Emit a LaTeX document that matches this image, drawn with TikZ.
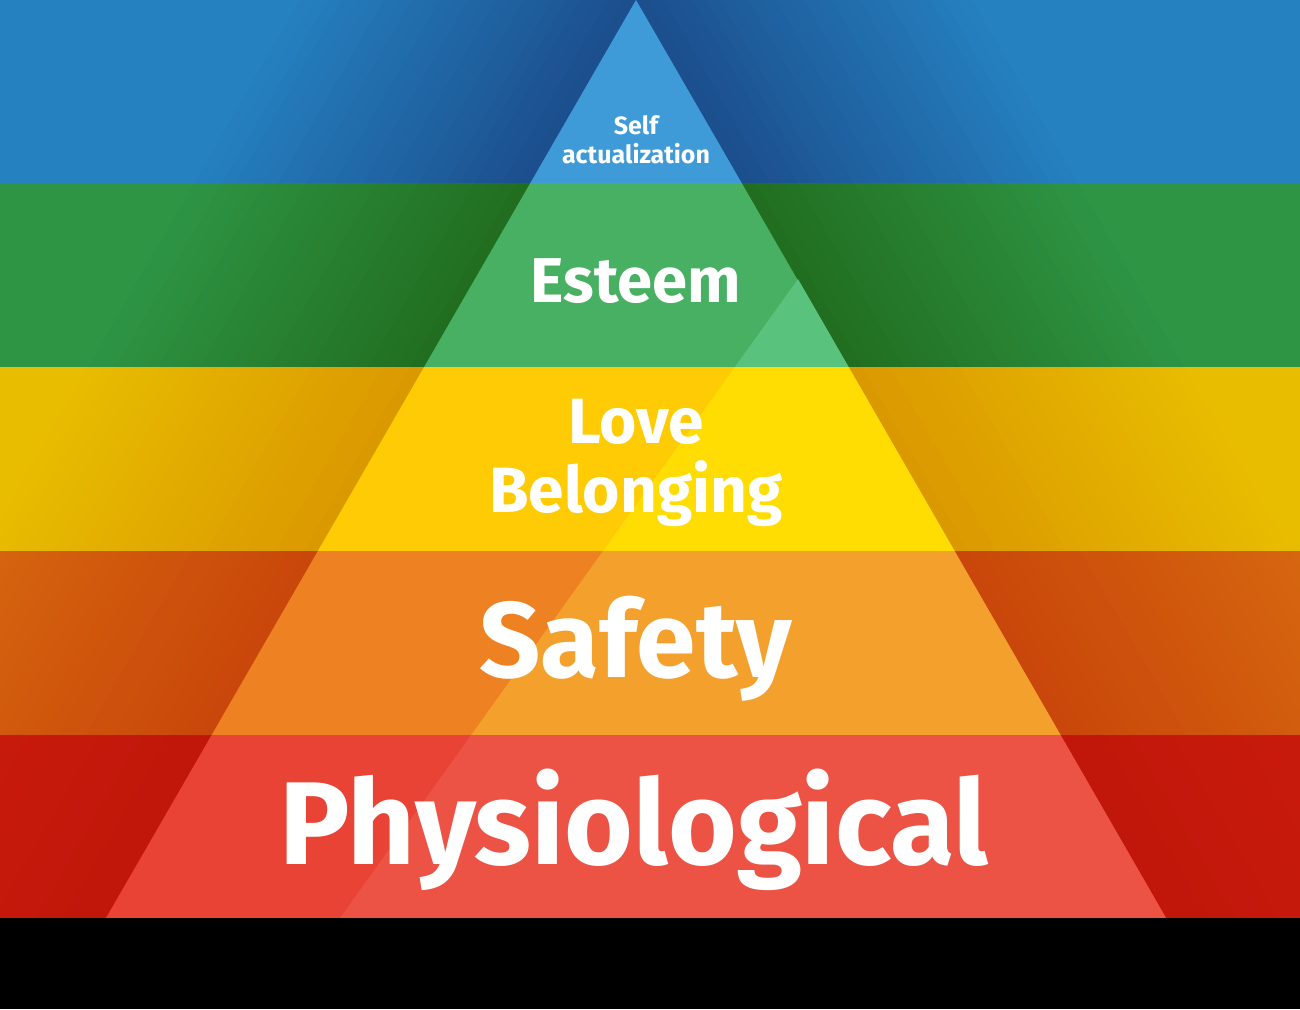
\documentclass[tikz,border=0pt]{standalone}
\usepackage{fontspec}
\setmainfont{Fira Sans}

\definecolor{blueLight}{HTML}{2581C0}
\definecolor{blueDark}{HTML}{1C4F8E}
\definecolor{bluePyr}{HTML}{3F9BD8}
\definecolor{greenLight}{HTML}{2E9545}
\definecolor{greenDark}{HTML}{226E20}
\definecolor{greenPyr}{HTML}{48B063}
\definecolor{greenHi}{HTML}{59C37E}
\definecolor{yellowLight}{HTML}{E8BD00}
\definecolor{yellowDark}{HTML}{DB9900}
\definecolor{yellowPyr}{HTML}{FFCB05}
\definecolor{yellowHi}{HTML}{FFDC02}
\definecolor{orangeLight}{HTML}{D6660F}
\definecolor{orangeDark}{HTML}{C9470A}
\definecolor{orangePyr}{HTML}{EE8222}
\definecolor{orangeHi}{HTML}{F4A02D}
\definecolor{redLight}{HTML}{CC1C0D}
\definecolor{redDark}{HTML}{C0170A}
\definecolor{redPyr}{HTML}{E84335}
\definecolor{redHi}{HTML}{EC5344}

\begin{document}
\begin{tikzpicture}[
    x=0.01cm, y=-0.01cm,
    level_text/.style={text=white, align=center, inner sep=0pt, anchor=base}
]
    \useasboundingbox (0,0) rectangle (1300,1009);

    % --- one band: background, shadow beside the pyramid, pyramid slice ---
    \def\drawband#1#2#3#4#5#6{
        % #1,#2: top and bottom, #3: light, #4: dark, #5: pyramid, #6: highlight
        \begin{scope}
            \clip (0,#1) rectangle (1300,#2);
            \fill[#3] (0,#1) rectangle (1300,#2);
            \foreach \i in {24,...,1} {
                \pgfmathsetmacro\mixval{100*(25-\i)/24}
                \fill[#4!\mixval!#3] (636-14*\i,0) -- (636+14*\i,0)
                    -- (1166+14*\i,918) -- (106-14*\i,918) -- cycle;
            }
            \fill[#5] (636,0) -- (1166,918) -- (106,918) -- cycle;
            \fill[#6] (798,279) -- (1166,918) -- (340,918) -- cycle;
        \end{scope}
    }

    % --- BANDS, top to bottom ---
    \drawband{0}{183.5}{blueLight}{blueDark}{bluePyr}{bluePyr}
    \drawband{183.5}{367}{greenLight}{greenDark}{greenPyr}{greenHi}
    \drawband{367}{551}{yellowLight}{yellowDark}{yellowPyr}{yellowHi}
    \drawband{551}{735}{orangeLight}{orangeDark}{orangePyr}{orangeHi}
    \drawband{735}{918}{redLight}{redDark}{redPyr}{redHi}

    % --- BOTTOM STRIP ---
    \fill[black] (0,918) rectangle (1300,1009);

    % --- LABELS (base = last line) ---
    \node[level_text, font=\bfseries\fontsize{7.1}{8}\selectfont] (self) at (636,163) {Self\\actualization};
    \node[level_text, font=\bfseries\fontsize{18}{20}\selectfont] (esteem) at (636,302) {Esteem};
    \node[level_text, font=\bfseries\fontsize{18.2}{19.6}\selectfont] (love) at (636,512) {Love\\Belonging};
    \node[level_text, font=\bfseries\fontsize{30.5}{34}\selectfont] (safety) at (636,677) {Safety};
    \node[level_text, font=\bfseries\fontsize{33.5}{38}\selectfont] (physio) at (634,864) {Physiological};

\end{tikzpicture}
\end{document}
